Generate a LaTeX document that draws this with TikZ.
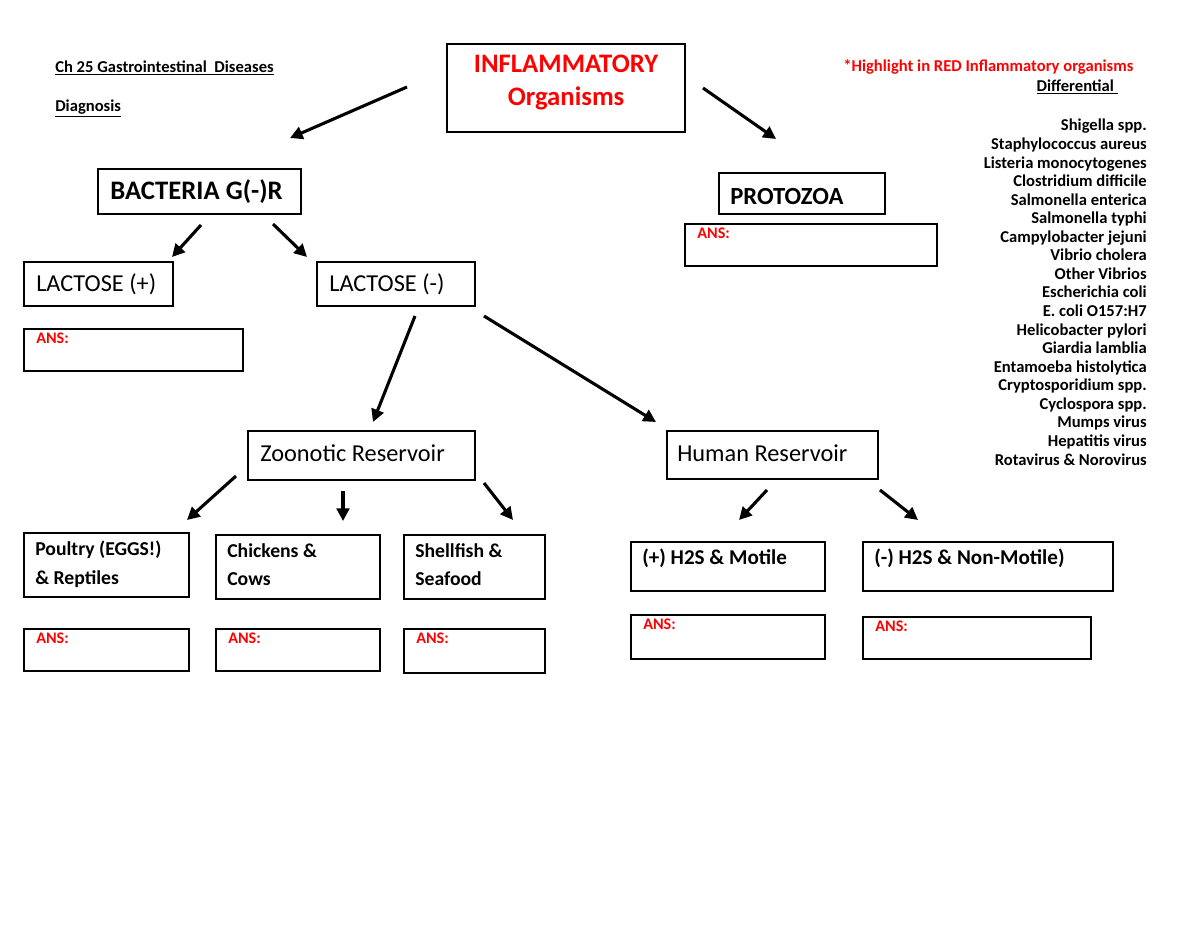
\documentclass[tikz,border=0pt]{standalone}
\usepackage{fontspec}
\setmainfont{Carlito}
\usetikzlibrary{arrows.meta}
\newcommand{\pxu}{0.025cm}
\tikzset{
	x=0.025cm, y=-0.025cm,
	box/.style={draw, line width=1.5pt, anchor=north west, inner sep=0pt},
	wh/.style 2 args={minimum width=#1*\pxu, minimum height=#2*\pxu},
	inlbl/.style={anchor=west, inner sep=0pt, xshift=13*\pxu},
	toplbl/.style={anchor=north west, inner sep=0pt, align=left, xshift=12*\pxu, yshift=-9*\pxu,
		font=\bfseries\fontsize{14}{20.5}\selectfont},
	anslbl/.style={anchor=north west, inner sep=0pt, xshift=13*\pxu, yshift=-5*\pxu, text=red,
		font=\bfseries\fontsize{11.5}{12}\selectfont},
	ans/.style={label={[anslbl]north west:ANS:}},
	bigb/.style={font=\bfseries\fontsize{17.5}{20}\selectfont},
	bign/.style={font=\fontsize{17.3}{20}\selectfont},
	note/.style={inner sep=0pt, font=\bfseries\fontsize{11.8}{13}\selectfont},
	arr/.style={line width=2.2pt, -{Triangle[length=9pt, width=9pt]}}
}
\begin{document}
\begin{tikzpicture}
	\useasboundingbox (0,0) rectangle (1200,927);

	\node[note, anchor=base west] (title) at (55,72) {\underline{Ch 25 Gastrointestinal~ Diseases}};
	\node[note, anchor=base west] (diag) at (55,111) {\underline{Diagnosis}};
	\node[note, anchor=base west, text=red] (hint) at (843,71) {*Highlight in RED Inflammatory organisms};
	\node[note, anchor=base east] (diff) at (1118,91) {\underline{Differential\ }};
	\node[note, anchor=north east, align=right, font=\bfseries\fontsize{11.8}{13.2}\selectfont] (list) at (1147,119) {Shigella spp.\\Staphylococcus aureus\\Listeria monocytogenes\\Clostridium difficile\\Salmonella enterica\\Salmonella typhi\\Campylobacter jejuni\\Vibrio cholera\\Other Vibrios\\Escherichia coli\\E. coli O157:H7\\Helicobacter pylori\\Giardia lamblia\\Entamoeba histolytica\\Cryptosporidium spp.\\Cyclospora spp.\\Mumps virus\\Hepatitis virus\\Rotavirus \& Norovirus};

	\node[box, wh={238}{88},
		label={[align=center, text=red, yshift=6*\pxu, font=\bfseries\fontsize{19}{23.5}\selectfont]center:INFLAMMATORY\\Organisms}] (infl) at (446,43) {};
	\node[box, wh={203}{45}, label={[inlbl, bigb, font=\bfseries\fontsize{19}{20}\selectfont]west:BACTERIA G(-)R}] (bact) at (97,168) {};
	\node[box, wh={166}{41}, label={[inlbl, bigb, xshift=-1*\pxu, yshift=-3*\pxu]west:PROTOZOA}] (proto) at (718,172) {};
	\node[box, wh={252}{42}, ans] (protoans) at (684,223) {};
	\node[box, wh={149}{44}, label={[inlbl, bign]west:LACTOSE (+)}] (lacp) at (23,261) {};
	\node[box, wh={158}{44}, label={[inlbl, bign]west:LACTOSE (-)}] (lacn) at (316,261) {};
	\node[box, wh={219}{42}, ans] (lacpans) at (23,328) {};
	\node[box, wh={227}{49}, label={[inlbl, bign, yshift=2*\pxu]west:Zoonotic Reservoir}] (zoo) at (247,430) {};
	\node[box, wh={211}{48}, label={[inlbl, bign, xshift=-2*\pxu, yshift=2*\pxu]west:Human Reservoir}] (hum) at (666,430) {};

	\node[box, wh={165}{64}, label={[toplbl]north west:Poultry (EGGS!)\\\& Reptiles}] (poul) at (23,532) {};
	\node[box, wh={164}{64}, label={[toplbl]north west:Chickens \&\\Cows}] (chick) at (215,534) {};
	\node[box, wh={141}{64}, label={[toplbl]north west:Shellfish \&\\Seafood}] (shell) at (403,534) {};
	\node[box, wh={165}{42}, ans] (poulans) at (23,628) {};
	\node[box, wh={164}{42}, ans] (chickans) at (215,628) {};
	\node[box, wh={141}{44}, ans] (shellans) at (403,628) {};

	\node[box, wh={194}{49}, label={[toplbl, yshift=1*\pxu, font=\bfseries\fontsize{15}{18}\selectfont]north west:(+) H2S \& Motile}] (hsp) at (630,541) {};
	\node[box, wh={250}{49}, label={[toplbl, yshift=1*\pxu, font=\bfseries\fontsize{15}{18}\selectfont]north west:(-) H2S \& Non-Motile)}] (hsn) at (862,541) {};
	\node[box, wh={194}{44}, ans] (hspans) at (630,614) {};
	\node[box, wh={228}{42}, ans] (hsnans) at (862,616) {};

	\coordinate (inflw) at (407,87);  \coordinate (bactn) at (290,138);
	\coordinate (infle) at (703,88);  \coordinate (proton) at (776,139);
	\coordinate (bactl) at (201,225); \coordinate (lacpn) at (172,257);
	\coordinate (bactr) at (273,224); \coordinate (lacnn) at (307,257);
	\coordinate (lacnl) at (415,316); \coordinate (zoon) at (373,422);
	\coordinate (lacnr) at (484,316); \coordinate (humn) at (656,422);
	\coordinate (zool) at (236,476);  \coordinate (pouln) at (187,520);
	\coordinate (zoom) at (343,491);  \coordinate (chickn) at (343,521);
	\coordinate (zoor) at (484,483);  \coordinate (shelln) at (513,520);
	\coordinate (huml) at (767,490);  \coordinate (hspn) at (739,520);
	\coordinate (humr) at (880,490);  \coordinate (hsnn) at (918,520);

	\draw[arr] (inflw) -- (bactn);
	\draw[arr] (infle) -- (proton);
	\draw[arr] (bactl) -- (lacpn);
	\draw[arr] (bactr) -- (lacnn);
	\draw[arr] (lacnl) -- (zoon);
	\draw[arr] (lacnr) -- (humn);
	\draw[arr] (zool) -- (pouln);
	\draw[arr] (zoom) -- (chickn);
	\draw[arr] (zoor) -- (shelln);
	\draw[arr] (huml) -- (hspn);
	\draw[arr] (humr) -- (hsnn);
\end{tikzpicture}
\end{document}
